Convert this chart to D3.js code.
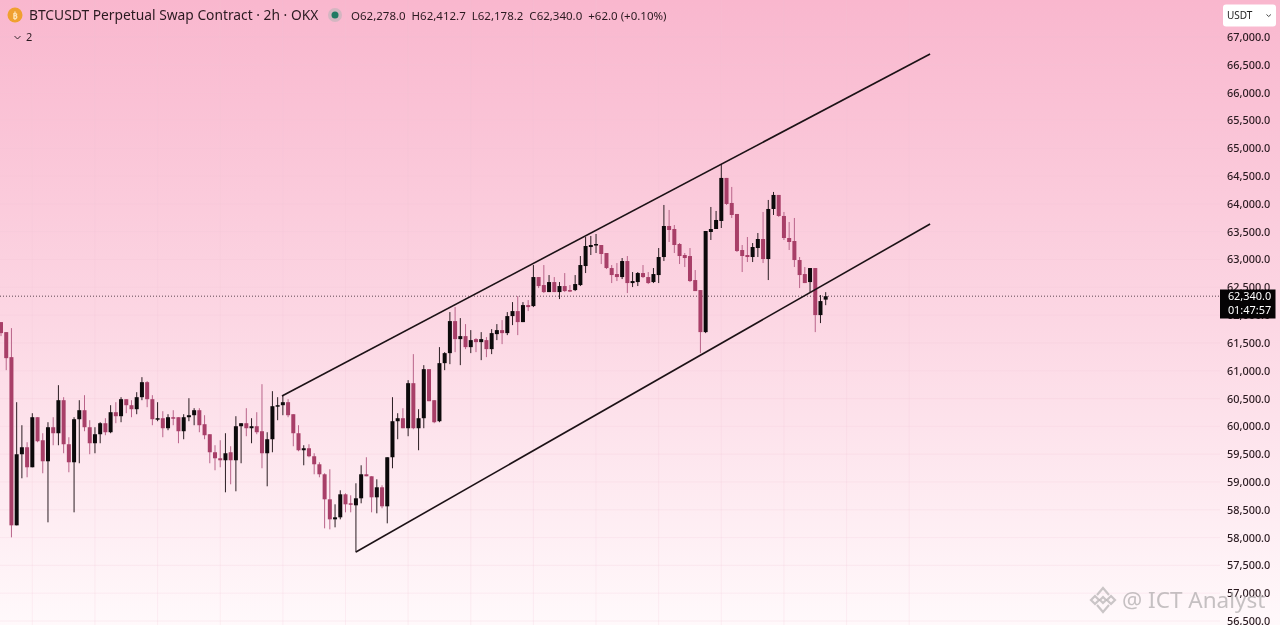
<!DOCTYPE html>
<html>
<head>
<meta charset="utf-8">
<title>BTCUSDT</title>
<script src="https://cdn.jsdelivr.net/npm/d3@7"></script>
<style>
    html, body { margin: 0; padding: 0; overflow: hidden; background: #fff; }
    svg { display: block; filter: blur(0.35px); }
    text { font-family: "Noto Sans", sans-serif; }
</style>
</head>
<body>
<svg id="chart" width="1280" height="625"></svg>
<script>
'use strict';

const opens = [
    61874, 61694, 61244, 58220, 59498, 59624, 59264, 60164, 59750, 59372,
    59984, 59876, 60470, 59678, 59354, 60128, 60290, 59984, 59696, 59858,
    60056, 59894, 60254, 60182, 60488, 60380, 60308, 60524, 60794, 60488,
    60128, 60146, 59966, 60164, 60164, 59912, 60164, 60200, 60290, 60038,
    59858, 59534, 59426, 59390, 59534, 59390, 60002, 60056, 59966, 60002,
    59912, 59516, 59768, 60362, 60380, 60434, 60218, 59876, 59570, 59606,
    59462, 59318, 59138, 58688, 58328, 58364, 58778, 58616, 58580, 58706,
    59138, 59102, 58724, 58904, 58562, 59444, 60092, 60146, 59966, 60776,
    59966, 60146, 61028, 60470, 60092, 61136, 61316, 61892, 61568, 61622,
    61424, 61568, 61514, 61550, 61388, 61658, 61730, 61676, 61982, 62072,
    61874, 62180, 62162, 62684, 62540, 62414, 62594, 62414, 62522, 62450,
    62450, 62540, 62882, 63224, 63260, 63260, 63116, 62846, 62738, 62684,
    62972, 62576, 62594, 62756, 62684, 62594, 62720, 63044, 63602, 63548,
    63278, 63080, 63062, 62630, 62450, 61694, 63494, 63548, 63692, 64466,
    64016, 63818, 63170, 63080, 63044, 63206, 63368, 63008, 63908, 64160,
    63782, 63386, 63332, 62990, 62738, 62594, 62846, 62000, 62278
];
const highs = [
    61874, 61694, 61766, 60434, 60020, 59714, 60236, 60164, 59876, 60074,
    60164, 60740, 60524, 59804, 60164, 60470, 60560, 60110, 59984, 60074,
    60146, 60380, 60434, 60524, 60488, 60470, 60614, 60884, 60812, 60560,
    60434, 60272, 60218, 60290, 60164, 60218, 60506, 60326, 60326, 60200,
    59858, 59660, 59750, 59876, 59642, 60182, 60056, 60326, 60146, 60254,
    60758, 59894, 60632, 60524, 60560, 60488, 60218, 60020, 59660, 59678,
    59516, 59354, 59156, 59228, 58598, 58850, 58796, 58760, 58976, 59300,
    59444, 59102, 59048, 58940, 59444, 60524, 60236, 60326, 60830, 61298,
    60308, 61100, 61028, 60470, 61424, 61334, 62054, 62144, 61946, 61838,
    61730, 61586, 61694, 61604, 61748, 61838, 61910, 62054, 62234, 62342,
    62234, 62270, 62900, 62684, 62900, 62720, 62684, 62594, 62756, 62540,
    62720, 63062, 63404, 63422, 63458, 63260, 63116, 62900, 62936, 63026,
    63062, 62774, 62774, 62900, 62774, 62846, 63206, 63980, 63890, 63620,
    63296, 63116, 63206, 62810, 62450, 63512, 63944, 63872, 64718, 64466,
    64304, 63818, 63260, 63404, 63296, 63476, 63854, 64070, 64214, 64160,
    63854, 63674, 63746, 63044, 62864, 62846, 62846, 62360, 62412.7
];
const lows = [
    61622, 61010, 58004, 58220, 59066, 59084, 59264, 59714, 59156, 58274,
    59660, 59660, 59516, 59174, 58454, 59336, 59912, 59498, 59516, 59696,
    59840, 59876, 60056, 60074, 60236, 60164, 60218, 60470, 60344, 60020,
    60092, 59804, 59930, 60020, 59696, 59768, 60092, 60020, 59894, 59768,
    59336, 59210, 59264, 58814, 58958, 58832, 59336, 59822, 59696, 59858,
    59246, 58922, 59534, 60110, 60200, 60164, 59642, 59552, 59300, 59444,
    59138, 59084, 58166, 58148, 58184, 58328, 58454, 58454, 57734, 58616,
    59102, 58454, 58436, 58526, 58256, 59246, 59768, 59966, 59822, 59948,
    59570, 59966, 60452, 60056, 60074, 61010, 61118, 61334, 61100, 61388,
    61316, 61334, 61190, 61244, 61298, 61550, 61478, 61640, 61820, 61640,
    61874, 62072, 62144, 62486, 62396, 62414, 62414, 62288, 62414, 62414,
    62432, 62522, 62756, 63080, 63116, 62918, 62828, 62576, 62612, 62648,
    62396, 62504, 62522, 62666, 62558, 62576, 62576, 62972, 63314, 63116,
    62918, 62864, 62594, 62432, 61316, 61676, 63350, 63548, 63566, 63980,
    63746, 63134, 62774, 62954, 62954, 63044, 62936, 62630, 63800, 63764,
    63350, 63170, 62864, 62486, 62576, 62414, 61694, 61856, 62178.2
];
const closes = [
    61676, 61226, 58220, 59498, 59624, 59264, 60164, 59732, 59372, 59984,
    59876, 60470, 59678, 59354, 60128, 60290, 59984, 59696, 59858, 60056,
    59894, 60254, 60182, 60488, 60380, 60308, 60524, 60794, 60488, 60128,
    60146, 59966, 60164, 60146, 59912, 60164, 60200, 60290, 60020, 59840,
    59534, 59426, 59390, 59516, 59390, 60002, 60056, 59966, 60002, 59894,
    59516, 59768, 60362, 60380, 60434, 60200, 59876, 59570, 59606, 59462,
    59318, 59138, 58688, 58328, 58364, 58778, 58598, 58598, 58706, 59138,
    59102, 58724, 58904, 58562, 59444, 60092, 60146, 59966, 60776, 59966,
    60146, 61028, 60452, 60074, 61136, 61316, 61892, 61568, 61622, 61424,
    61550, 61514, 61568, 61388, 61676, 61730, 61676, 61982, 62072, 61874,
    62180, 62144, 62684, 62522, 62414, 62594, 62414, 62522, 62432, 62432,
    62558, 62900, 63242, 63260, 63278, 63098, 62846, 62720, 62684, 62972,
    62576, 62612, 62756, 62684, 62576, 62738, 63044, 63602, 63530, 63260,
    63062, 63026, 62612, 62432, 61694, 63512, 63548, 63710, 64466, 63998,
    63800, 63152, 63062, 63044, 63224, 63368, 63008, 63908, 64160, 63782,
    63386, 63314, 62990, 62720, 62576, 62846, 62000, 62252, 62340
];

const priceTicks = d3.range(56500, 67001, 500);
const gridBars = d3.range(6, 180, 12);

// channel lines, as [bar, price] pairs
const upperChannel = [[53.83, 60545], [178, 66694]];
const lowerChannel = [[68, 57740], [178, 63638]];

const lastPrice = 62340;
const countdown = '01:47:57';
const titleText = 'BTCUSDT Perpetual Swap Contract · 2h · OKX';
const ohlcText = 'O62,278.0  H62,412.7  L62,178.2  C62,340.0  +62.0 (+0.10%)';

(function () {
    const width = 1280;
    const height = 625;
    const svg = d3.select('#chart');
    const bars = d3.range(opens.length);

    const x = d3.scaleLinear().domain([0, 158]).range([1, 825.7]);
    const y = d3.scaleLinear().domain([56500, 67000]).range([621, 37]);
    const line = d3.line().x(d => x(d[0])).y(d => y(d[1]));

    const defs = svg.append('defs');
    const grad = defs.append('linearGradient')
        .attr('id', 'bg-gradient')
        .attr('x1', 0).attr('y1', 0).attr('x2', 0).attr('y2', 1);
    grad.append('stop').attr('offset', '0%').attr('stop-color', '#f9b7ce');
    grad.append('stop').attr('offset', '50%').attr('stop-color', '#fcd6e3');
    grad.append('stop').attr('offset', '100%').attr('stop-color', '#fff9fb');

    svg.append('rect')
        .attr('width', width)
        .attr('height', height)
        .attr('fill', 'url(#bg-gradient)');

    // grid
    const grid = svg.append('g').attr('stroke', '#f3c4d4').attr('stroke-opacity', 0.22);
    grid.selectAll('.v')
        .data(gridBars)
        .enter().append('line')
        .attr('x1', d => x(d)).attr('x2', d => x(d))
        .attr('y1', 0).attr('y2', height);
    grid.selectAll('.h')
        .data(priceTicks)
        .enter().append('line')
        .attr('x1', 0).attr('x2', 1220)
        .attr('y1', d => y(d)).attr('y2', d => y(d));

    // last price line
    svg.append('line')
        .attr('x1', 0).attr('x2', 1220)
        .attr('y1', y(lastPrice)).attr('y2', y(lastPrice))
        .attr('stroke', '#5c4650')
        .attr('stroke-dasharray', '1 2');

    // candles
    const isUp = i => closes[i] >= opens[i];
    svg.append('g').selectAll('line')
        .data(bars)
        .enter().append('line')
        .attr('x1', i => x(i)).attr('x2', i => x(i))
        .attr('y1', i => y(highs[i])).attr('y2', i => y(lows[i]))
        .attr('stroke', i => isUp(i) ? '#2a1d22' : '#b9648a')
        .attr('stroke-width', 1);
    svg.append('g').selectAll('rect')
        .data(bars)
        .enter().append('rect')
        .attr('x', i => x(i) - 2)
        .attr('width', 4)
        .attr('y', i => y(Math.max(opens[i], closes[i])))
        .attr('height', i => Math.max(1.5, Math.abs(y(opens[i]) - y(closes[i]))))
        .attr('fill', i => isUp(i) ? '#0c0a0b' : '#a83f68');

    // channel
    svg.append('g').selectAll('path')
        .data([upperChannel, lowerChannel])
        .enter().append('path')
        .attr('d', line)
        .attr('fill', 'none')
        .attr('stroke', '#1c1216')
        .attr('stroke-width', 1.6);

    // price axis
    const axis = svg.append('g')
        .attr('transform', 'translate(1227,0)')
        .call(d3.axisRight(y).tickValues(priceTicks).tickSize(0).tickPadding(0).tickFormat(d3.format(',.1f')));
    axis.select('.domain').remove();
    axis.selectAll('text')
        .attr('fill', '#2a1a20')
        .style('font-family', '"Noto Sans", sans-serif')
        .style('font-size', '10.9px')
        .style('font-weight', 500);

    // last price label
    svg.append('rect')
        .attr('x', 1220).attr('y', 289.5)
        .attr('width', 55.5).attr('height', 29)
        .attr('fill', '#050304');
    const tag = svg.append('g')
        .attr('fill', '#fff')
        .attr('text-anchor', 'middle')
        .style('font-size', '10.9px');
    tag.append('text').attr('x', 1249.5).attr('y', 300).text(d3.format(',.1f')(lastPrice));
    tag.append('text').attr('x', 1249.5).attr('y', 313.5).text(countdown);

    // currency box
    svg.append('rect')
        .attr('x', 1223).attr('y', 4.5)
        .attr('width', 53).attr('height', 22)
        .attr('rx', 3)
        .attr('fill', '#fff');
    svg.append('text')
        .attr('x', 1227).attr('y', 19)
        .attr('fill', '#222')
        .style('font-size', '10px')
        .text('USDT');
    svg.append('path')
        .attr('d', 'M1266.5,14.5 l2.2,2 l2.2,-2')
        .attr('fill', 'none')
        .attr('stroke', '#444');

    // header
    svg.append('circle').attr('cx', 15).attr('cy', 15).attr('r', 7.5).attr('fill', '#f0a030');
    svg.append('text')
        .attr('x', 15).attr('y', 18.5)
        .attr('text-anchor', 'middle')
        .attr('fill', '#ffe3b5')
        .style('font-size', '9px')
        .style('font-weight', 700)
        .text('₿');
    svg.append('text')
        .attr('x', 29).attr('y', 20)
        .attr('fill', '#2a1a20')
        .style('font-size', '13.8px')
        .text(titleText);
    svg.append('circle').attr('cx', 335).attr('cy', 15).attr('r', 7).attr('fill', '#c9b5bd').attr('fill-opacity', 0.8);
    svg.append('circle').attr('cx', 335).attr('cy', 15).attr('r', 3.5).attr('fill', '#1f7a63');
    svg.append('text')
        .attr('x', 351).attr('y', 19.5)
        .attr('fill', '#2a1a20')
        .style('font-size', '11.5px')
        .attr('xml:space', 'preserve')
        .text(ohlcText);
    svg.append('path')
        .attr('d', 'M14.5,36 l3,3 l3,-3')
        .attr('fill', 'none')
        .attr('stroke', '#3a2a30');
    svg.append('text')
        .attr('x', 26).attr('y', 41)
        .attr('fill', '#2a1a20')
        .style('font-size', '11px')
        .text('2');

    // watermark
    const mark = svg.append('g')
        .attr('transform', 'translate(1103,600)')
        .attr('fill', 'none')
        .attr('stroke', '#b8b4b6')
        .attr('stroke-opacity', 0.75)
        .attr('stroke-width', 2.2);
    mark.append('path').attr('d', 'M-6,-5 L0,-12 L6,-5');
    mark.append('path').attr('d', 'M-6,5 L0,12 L6,5');
    mark.append('path').attr('d', 'M-12,0 L-8,-4 L-4,0 L-8,4 Z');
    mark.append('path').attr('d', 'M12,0 L8,-4 L4,0 L8,4 Z');
    mark.append('path').attr('d', 'M0,-3 L3,0 L0,3 L-3,0 Z');
    svg.append('text')
        .attr('x', 1122).attr('y', 608)
        .attr('fill', '#aeaaac')
        .attr('fill-opacity', 0.72)
        .style('font-size', '22.5px')
        .text('@ ICT Analyst');
}());
</script>
</body>
</html>
